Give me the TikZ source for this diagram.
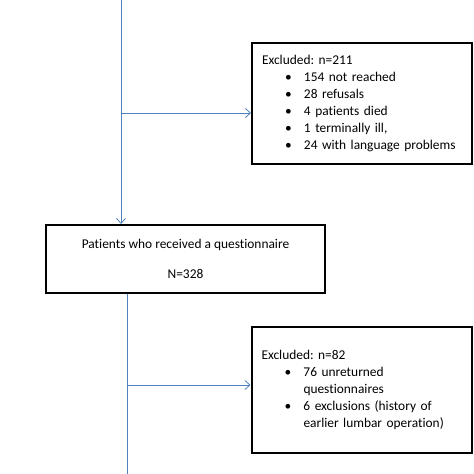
\documentclass[tikz,border=0pt]{standalone}
\usepackage{fontspec}
\setmainfont[Ligatures=NoCommon]{Carlito}
\usepackage{tikz}
\usetikzlibrary{arrows.meta,positioning}

\definecolor{lineblue}{RGB}{79,129,189}
\newcommand{\bitem}[1]{\hspace*{23pt}\makebox[19pt][l]{\textbullet}#1}
\newcommand{\bcont}[1]{\hspace*{42pt}#1}
\frenchspacing

\begin{document}
\begin{tikzpicture}
 [x=1pt,y=-1pt,
  excl node/.style={rectangle,draw,line width=2pt,align=left,inner xsep=10pt,inner ysep=0pt,text width=200pt,font=\fontsize{13.4}{17}\selectfont},
  main node/.style={rectangle,draw,line width=2pt,align=center,minimum width=279pt,minimum height=68pt,font=\fontsize{13.4}{17}\selectfont},
  flow/.style={draw=lineblue,line width=0.8pt},
  flow arrow/.style={flow,-{Straight Barb[length=5pt,width=9pt]}}]

 \useasboundingbox (0,0) rectangle (474,474);

 \node[excl node, minimum height=121pt] (excl1) at (362,103.5)
   {Excluded: n=211\\
    \bitem{154 not reached}\\
    \bitem{28 refusals}\\
    \bitem{4 patients died}\\
    \bitem{1 terminally ill,}\\
    \bitem{24 with language problems}};

 \node[main node] (recv) at (185.5,259)
   {Patients who received a questionnaire\\[13pt] N=328};

 \node[excl node, minimum height=126pt] (excl2) at (361.5,390)
   {Excluded: n=82\\
    \bitem{76 unreturned}\\
    \bcont{questionnaires}\\
    \bitem{6 exclusions (history of}\\
    \bcont{earlier lumbar operation)}};

 \coordinate (top) at (121,0);
 \coordinate (b1) at (121,113);
 \coordinate (bot) at (127,474);
 \coordinate (b2) at (127,385);

 \path
   (top) edge [flow arrow] (top |- recv.north)
   (b1) edge [flow arrow] (b1 -| excl1.west)
   (recv.south -| bot) edge [flow] (bot)
   (b2) edge [flow arrow] (b2 -| excl2.west);

\end{tikzpicture}
\end{document}
